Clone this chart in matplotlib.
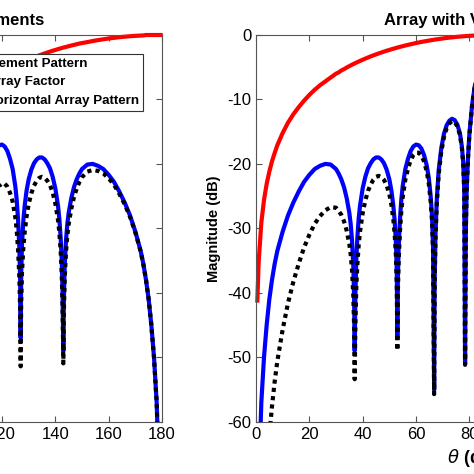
import matplotlib.pyplot as plt
import numpy as np

# angles (deg) read for the vertical-element panel; horizontal panel is mirrored (180 - theta)
theta = [0.5, 1, 2, 3, 4, 5, 6, 7, 8, 10, 12, 14, 16, 18, 20, 22, 24, 26, 28, 30, 31, 32, 33,
         34, 35, 35.5, 36, 36.5, 36.8, 37, 37.3, 37.6, 38, 38.5, 39, 40, 41, 42, 43, 44, 45,
         46, 47, 48, 49, 50, 50.8, 51.5, 52, 52.5, 52.8, 53, 53.2, 53.5, 54, 54.5, 55, 56,
         57, 58, 59, 60, 61, 62, 63, 64, 64.8, 65.5, 66, 66.4, 66.8, 67, 67.3, 67.8, 68.5,
         69.5, 70.5, 71.5, 72.5, 73.5, 74.5, 75.5, 76.5, 77.2, 77.7, 78.1, 78.4, 78.7, 79,
         79.5, 80, 81, 82, 84, 86, 88, 90]

# array factor (dB)
af_db = [-80, -70, -57, -50, -45, -41, -38, -35.5, -33.5, -30.5, -28, -26, -24.3, -22.8,
         -21.7, -20.8, -20.3, -20, -20.1, -20.8, -21.5, -22.4, -23.6, -25.3, -27.6, -29.3,
         -31.8, -36, -41, -49, -40, -35, -31.5, -28.5, -26.5, -23.8, -22, -20.7, -19.9,
         -19.3, -19, -19, -19.3, -19.9, -20.9, -22.4, -24.2, -26.5, -28.8, -32.5, -37, -47,
         -38, -33, -28.5, -25.5, -23.5, -20.8, -19.2, -18, -17.3, -17, -17.1, -17.6, -18.6,
         -20.2, -22.2, -25, -28, -33, -55, -38, -31, -25.5, -21, -17.5, -15.3, -14, -13.3,
         -13, -13.2, -13.9, -15.3, -17.3, -19.7, -24, -51, -30, -24, -19, -15.5, -11, -8,
         -4, -1.8, -0.5, 0]

# element pattern, vertical elements (dB)
elem_vert = [-41.2, -35.2, -29.1, -25.6, -23.1, -21.2, -19.6, -18.3, -17.1, -15.2, -13.6,
             -12.3, -11.2, -10.2, -9.3, -8.5, -7.8, -7.2, -6.6, -6.0, -5.8, -5.5, -5.3, -5.05,
             -4.83, -4.72, -4.61, -4.51, -4.45, -4.41, -4.35, -4.29, -4.21, -4.12, -4.02,
             -3.84, -3.66, -3.49, -3.32, -3.16, -3.01, -2.86, -2.72, -2.58, -2.44, -2.32,
             -2.21, -2.13, -2.07, -2.01, -1.98, -1.95, -1.93, -1.9, -1.84, -1.79, -1.73,
             -1.63, -1.53, -1.43, -1.34, -1.25, -1.16, -1.08, -1.0, -0.93, -0.87, -0.82,
             -0.79, -0.76, -0.73, -0.72, -0.7, -0.67, -0.63, -0.57, -0.51, -0.46, -0.41,
             -0.37, -0.32, -0.28, -0.24, -0.22, -0.2, -0.19, -0.18, -0.17, -0.16, -0.15,
             -0.13, -0.11, -0.08, -0.05, -0.02, -0.01, 0]

# element pattern, horizontal elements (dB), at 180 - theta
elem_horz = [0, 0, 0, 0, 0, 0, 0, -0.07, -0.09, -0.13, -0.19, -0.26, -0.34, -0.44, -0.54,
             -0.67, -0.79, -0.94, -1.1, -1.25, -1.33, -1.43, -1.53, -1.63, -1.74, -1.79,
             -1.85, -1.9, -1.93, -1.95, -1.99, -2.02, -2.07, -2.13, -2.19, -2.32, -2.44,
             -2.58, -2.72, -2.86, -3.01, -3.16, -3.32, -3.49, -3.66, -3.84, -3.98, -4.12,
             -4.22, -4.31, -4.37, -4.41, -4.45, -4.51, -4.61, -4.72, -4.83, -5.05, -5.28,
             -5.52, -5.76, -6.02, -6.29, -6.57, -6.86, -7.16, -7.42, -7.65, -7.81, -7.95,
             -8.09, -8.16, -8.27, -8.45, -8.72, -9.11, -9.53, -9.97, -10.44, -10.93, -11.46,
             -12.03, -12.64, -13.09, -13.43, -13.71, -13.93, -14.16, -14.39, -14.79, -15.21,
             -16.11, -17.13, -19.62, -23.13, -29.14, -80]

th = np.array(theta)
af = np.array(af_db)
ev = np.array(elem_vert)
eh = np.array(elem_horz)

plt.rcParams['font.family'] = ['Liberation Sans', 'DejaVu Sans']
plt.rcParams['axes.unicode_minus'] = False

fig = plt.figure(figsize=(4.74, 4.74), dpi=100)
W, H = 474, 474
ax_l = fig.add_axes([-318 / W, 1 - 421.7 / H, 480 / W, 386.7 / H])
ax_r = fig.add_axes([256 / W, 1 - 421.7 / H, 480 / W, 386.7 / H])

panels = [
    (ax_l, 180 - th, eh, 'Array with Horizontal Elements', 'Horizontal Array Pattern'),
    (ax_r, th, ev, 'Array with Vertical Elements', 'Vertical Array Pattern'),
]

for ax, x, elem, title, pat_label in panels:
    ax.plot(x, elem, color='#ff0000', lw=3, clip_on=False, label='Element Pattern')
    ax.plot(x, af, color='#0000ff', lw=3, label='Array Factor')
    ax.plot(x, af + elem, color='black', lw=3, dashes=(1, 1), label=pat_label)
    ax.set_xlim(0, 180)
    ax.set_ylim(-60, 0)
    ax.set_xticks(range(0, 181, 20))
    ax.set_yticks(range(-60, 1, 10))
    ax.tick_params(direction='in', top=True, right=True, labelsize=12, length=4,
                   color='#555555')
    for s in ax.spines.values():
        s.set_color('#555555')
    ax.set_title(title, fontsize=12, fontweight='bold', pad=7)

ax_r.set_ylabel('Magnitude (dB)', fontsize=10.5, fontweight='bold')
ax_r.set_xlabel(r'$\theta$ (degrees)', fontsize=13, fontweight='bold')

leg = ax_l.legend(loc='upper right', bbox_to_anchor=(150 / W, 1 - 47 / H),
                  bbox_transform=fig.transFigure, fancybox=False, framealpha=1,
                  edgecolor='#333333', prop={'weight': 'bold', 'size': 9.6},
                  labelspacing=0.45, borderpad=0.3, handlelength=3)
leg.get_frame().set_linewidth(0.8)

fig.savefig('out.png', dpi=100)
